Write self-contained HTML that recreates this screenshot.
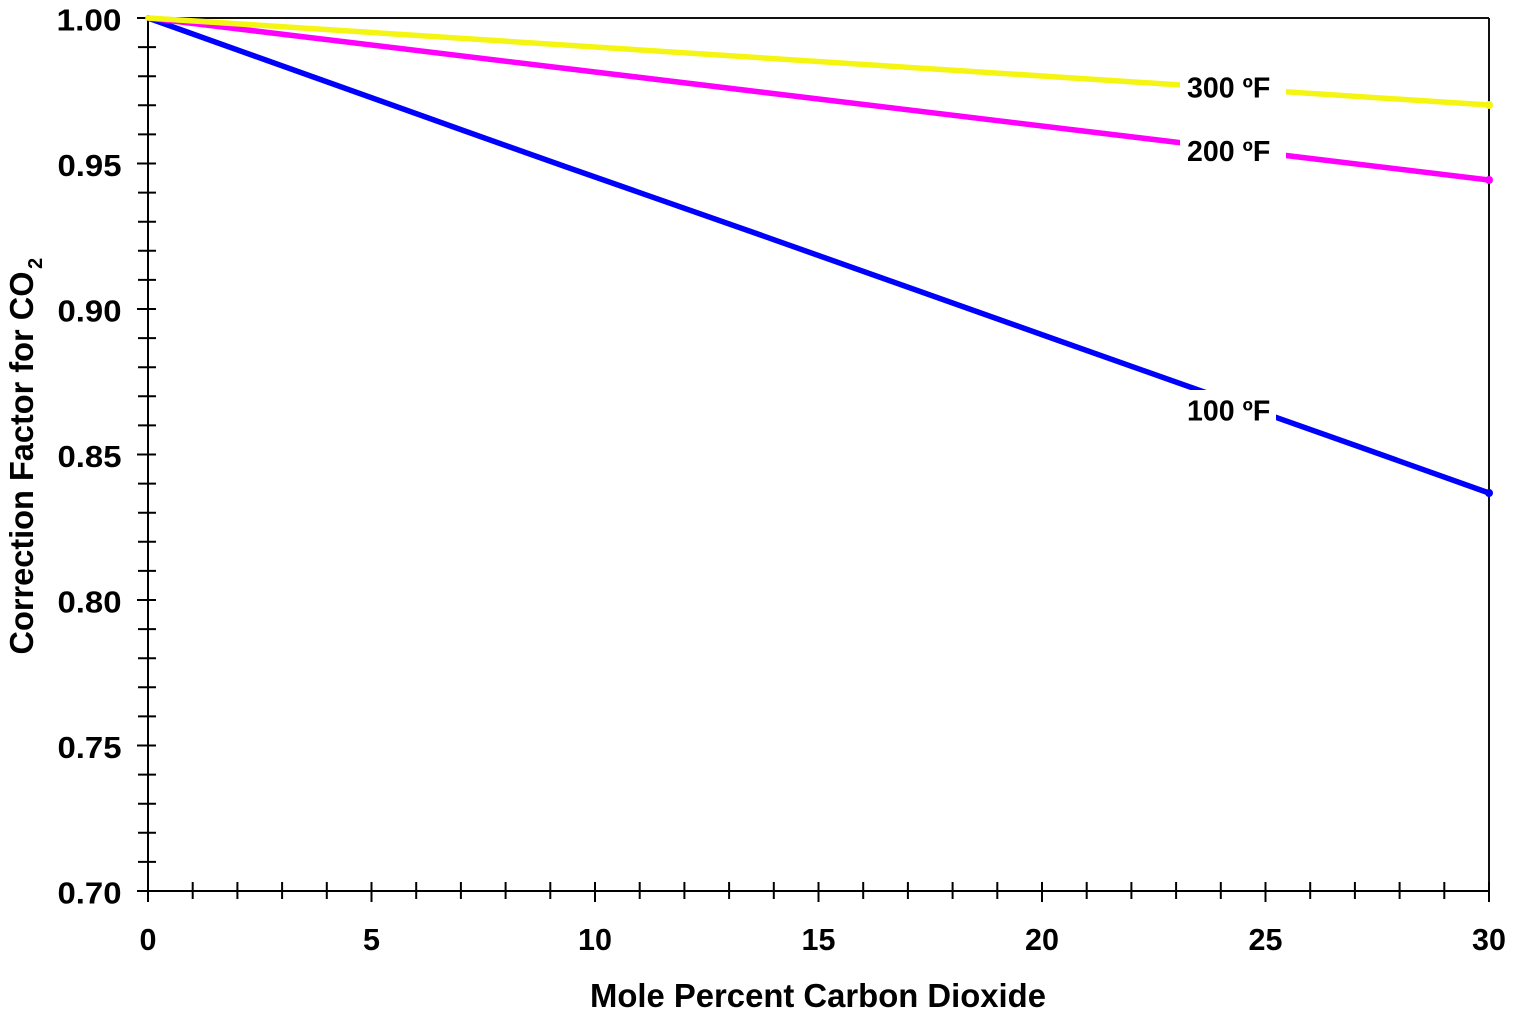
<!DOCTYPE html>
<html>
<head>
<meta charset="utf-8">
<style>
  html, body { margin: 0; padding: 0; background: #ffffff; }
  svg { display: block; }
  text { font-family: "Liberation Sans", Arial, sans-serif; font-weight: bold; fill: #000; }
</style>
</head>
<body>
<svg width="1513" height="1014" viewBox="0 0 1513 1014" xmlns="http://www.w3.org/2000/svg">
  <rect x="0" y="0" width="1513" height="1014" fill="#ffffff"/>

  <!-- plot frame -->
  <line x1="148" y1="18" x2="1489" y2="18" stroke="#111" stroke-width="2"/>
  <line x1="1489" y1="18" x2="1489" y2="891" stroke="#111" stroke-width="2"/>

  <!-- Y axis -->
  <line x1="148" y1="18" x2="148" y2="902" stroke="#000" stroke-width="2"/>
  <!-- X axis -->
  <line x1="137" y1="891" x2="1489" y2="891" stroke="#000" stroke-width="2"/>

  <!-- Y ticks -->
  <g stroke="#000" stroke-width="2">
    <line x1="137" y1="18" x2="148" y2="18"/>
    <line x1="138" y1="47.1" x2="156" y2="47.1"/>
    <line x1="138" y1="76.2" x2="156" y2="76.2"/>
    <line x1="138" y1="105.3" x2="156" y2="105.3"/>
    <line x1="138" y1="134.4" x2="156" y2="134.4"/>
    <line x1="137" y1="163.5" x2="156" y2="163.5"/>
    <line x1="138" y1="192.6" x2="156" y2="192.6"/>
    <line x1="138" y1="221.7" x2="156" y2="221.7"/>
    <line x1="138" y1="250.8" x2="156" y2="250.8"/>
    <line x1="138" y1="279.9" x2="156" y2="279.9"/>
    <line x1="137" y1="309" x2="156" y2="309"/>
    <line x1="138" y1="338.1" x2="156" y2="338.1"/>
    <line x1="138" y1="367.2" x2="156" y2="367.2"/>
    <line x1="138" y1="396.3" x2="156" y2="396.3"/>
    <line x1="138" y1="425.4" x2="156" y2="425.4"/>
    <line x1="137" y1="454.5" x2="156" y2="454.5"/>
    <line x1="138" y1="483.6" x2="156" y2="483.6"/>
    <line x1="138" y1="512.7" x2="156" y2="512.7"/>
    <line x1="138" y1="541.8" x2="156" y2="541.8"/>
    <line x1="138" y1="570.9" x2="156" y2="570.9"/>
    <line x1="137" y1="600" x2="156" y2="600"/>
    <line x1="138" y1="629.1" x2="156" y2="629.1"/>
    <line x1="138" y1="658.2" x2="156" y2="658.2"/>
    <line x1="138" y1="687.3" x2="156" y2="687.3"/>
    <line x1="138" y1="716.4" x2="156" y2="716.4"/>
    <line x1="137" y1="745.5" x2="156" y2="745.5"/>
    <line x1="138" y1="774.6" x2="156" y2="774.6"/>
    <line x1="138" y1="803.7" x2="156" y2="803.7"/>
    <line x1="138" y1="832.8" x2="156" y2="832.8"/>
    <line x1="138" y1="861.9" x2="156" y2="861.9"/>
  </g>

  <!-- X ticks -->
  <g stroke="#000" stroke-width="2">
    <line x1="192.7" y1="882" x2="192.7" y2="899"/>
    <line x1="237.4" y1="882" x2="237.4" y2="899"/>
    <line x1="282.1" y1="882" x2="282.1" y2="899"/>
    <line x1="326.8" y1="882" x2="326.8" y2="899"/>
    <line x1="371.5" y1="882" x2="371.5" y2="902"/>
    <line x1="416.2" y1="882" x2="416.2" y2="899"/>
    <line x1="460.9" y1="882" x2="460.9" y2="899"/>
    <line x1="505.6" y1="882" x2="505.6" y2="899"/>
    <line x1="550.3" y1="882" x2="550.3" y2="899"/>
    <line x1="595" y1="882" x2="595" y2="902"/>
    <line x1="639.7" y1="882" x2="639.7" y2="899"/>
    <line x1="684.4" y1="882" x2="684.4" y2="899"/>
    <line x1="729.1" y1="882" x2="729.1" y2="899"/>
    <line x1="773.8" y1="882" x2="773.8" y2="899"/>
    <line x1="818.5" y1="882" x2="818.5" y2="902"/>
    <line x1="863.2" y1="882" x2="863.2" y2="899"/>
    <line x1="907.9" y1="882" x2="907.9" y2="899"/>
    <line x1="952.6" y1="882" x2="952.6" y2="899"/>
    <line x1="997.3" y1="882" x2="997.3" y2="899"/>
    <line x1="1042" y1="882" x2="1042" y2="902"/>
    <line x1="1086.7" y1="882" x2="1086.7" y2="899"/>
    <line x1="1131.4" y1="882" x2="1131.4" y2="899"/>
    <line x1="1176.1" y1="882" x2="1176.1" y2="899"/>
    <line x1="1220.8" y1="882" x2="1220.8" y2="899"/>
    <line x1="1265.5" y1="882" x2="1265.5" y2="902"/>
    <line x1="1310.2" y1="882" x2="1310.2" y2="899"/>
    <line x1="1354.9" y1="882" x2="1354.9" y2="899"/>
    <line x1="1399.6" y1="882" x2="1399.6" y2="899"/>
    <line x1="1444.3" y1="882" x2="1444.3" y2="899"/>
    <line x1="1489" y1="882" x2="1489" y2="902"/>
  </g>

  <!-- Series -->
  <polyline points="148,18 455,127.5 565,166.5 755,233 1057,340 1357,446 1489,493" fill="none" stroke="#0000ff" stroke-width="5.5" stroke-linejoin="round" stroke-linecap="round"/>
  <circle cx="1489" cy="493" r="4" fill="#0000ff"/>

  <line x1="148" y1="18" x2="1489" y2="180" stroke="#ff00ff" stroke-width="5.5" stroke-linecap="round"/>
  <circle cx="1489" cy="180" r="4" fill="#ff00ff"/>

  <line x1="148" y1="18" x2="1489" y2="105" stroke="#f5f514" stroke-width="5.5" stroke-linecap="round"/>
  <circle cx="1489" cy="105" r="4" fill="#f5f514"/>

  <!-- label boxes -->
  <rect x="1180" y="68" width="106" height="38" fill="#ffffff"/>
  <rect x="1180" y="131" width="106" height="38" fill="#ffffff"/>
  <rect x="1180" y="390" width="96" height="42" fill="#ffffff"/>

  <!-- series labels -->
  <text x="1187" y="97.5" font-size="28.5">300 ºF</text>
  <text x="1187" y="161" font-size="28.5">200 ºF</text>
  <text x="1187" y="420.5" font-size="28.5">100 ºF</text>

  <!-- Y tick labels -->
  <g font-size="30.5" text-anchor="end">
    <text x="121.5" y="30.5" textLength="65" lengthAdjust="spacingAndGlyphs">1.00</text>
    <text x="121.5" y="176" textLength="64" lengthAdjust="spacingAndGlyphs">0.95</text>
    <text x="121.5" y="321.5" textLength="64" lengthAdjust="spacingAndGlyphs">0.90</text>
    <text x="121.5" y="467" textLength="64" lengthAdjust="spacingAndGlyphs">0.85</text>
    <text x="121.5" y="612.5" textLength="64" lengthAdjust="spacingAndGlyphs">0.80</text>
    <text x="121.5" y="758" textLength="64" lengthAdjust="spacingAndGlyphs">0.75</text>
    <text x="121.5" y="903.5" textLength="64" lengthAdjust="spacingAndGlyphs">0.70</text>
  </g>

  <!-- X tick labels -->
  <g font-size="30.5" text-anchor="middle">
    <text x="148" y="950">0</text>
    <text x="371.5" y="950">5</text>
    <text x="595" y="950">10</text>
    <text x="818.5" y="950">15</text>
    <text x="1042" y="950">20</text>
    <text x="1265.5" y="950">25</text>
    <text x="1489" y="950">30</text>
  </g>

  <!-- Axis titles -->
  <text x="818" y="1007" font-size="33" text-anchor="middle" textLength="456" lengthAdjust="spacingAndGlyphs">Mole Percent Carbon Dioxide</text>

  <text transform="translate(33,654.5) rotate(-90)" font-size="33" textLength="383" lengthAdjust="spacingAndGlyphs">Correction Factor for CO</text>
  <text transform="translate(42,269) rotate(-90)" font-size="20">2</text>
</svg>
</body>
</html>
